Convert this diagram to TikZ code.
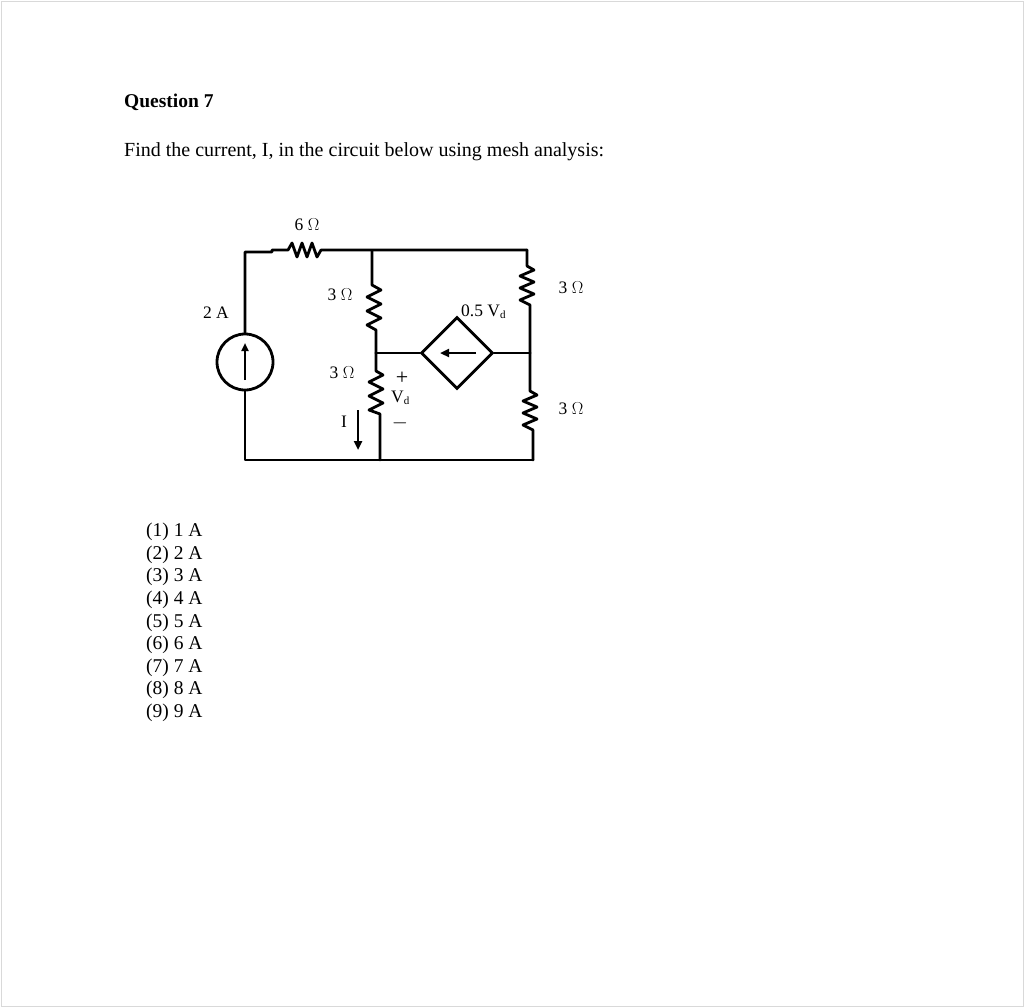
\documentclass[tikz,border=0pt]{standalone}
\usepackage{fontspec}
\setmainfont{Liberation Serif}
\usetikzlibrary{arrows.meta,shapes.geometric}
\begin{document}
\begin{tikzpicture}[x=1pt,y=-1pt,
  wire/.style={line width=2.8pt,line cap=round, line join=round},
  lbl/.style={inner sep=0pt,font=\fontsize{17.5}{17.5}\selectfont},
  opt/.style={inner sep=0pt,anchor=west,font=\fontsize{19.5}{19.5}\selectfont}]
\useasboundingbox (0,0) rectangle (1024,1007);
\draw[black!15,line width=1pt] (1,1) rectangle (1023,1006);
\node[anchor=west,inner sep=0pt,font=\fontsize{19.5}{19.5}\selectfont\bfseries] (q) at (124,102) {Question 7};
\node[anchor=west,inner sep=0pt,font=\fontsize{20}{20}\selectfont] (f) at (124,152) {Find the current, I, in the circuit below using mesh analysis:};
% nodes
\coordinate (tl) at (245,252);
\coordinate (bl) at (245,460);
\coordinate (br) at (533,460);
\coordinate (tr) at (527,250);
\coordinate (tm) at (372,251);
\coordinate (mm) at (376,353);
\coordinate (rm) at (530,353);
\coordinate (bm) at (380,460);
\node[circle,draw,line width=2.8pt,minimum size=56pt,inner sep=0pt] (src) at (245,362) {};
\node[diamond,draw,line width=2.8pt,minimum width=72pt,minimum height=72pt,inner sep=0pt] (dep) at (457,353) {};
% left/top
\draw[wire] (src.north) -- (tl) -- (272,252) -- (272,250) -- (288,250)
  -- (292,243) -- (297,257) -- (302,243) -- (307,257) -- (312,243) -- (317,257) -- (321,250) -- (325,250) -- (343,250) -- (tr);
\draw[wire] (src.south) -- (bl) -- (bm) -- (br);
% middle branch
\draw[wire] (tm) -- (372,285) -- (381,290) -- (367,297) -- (381,304) -- (367,311) -- (381,318) -- (367,325) -- (376,330) -- (mm);
\draw[wire] (mm) -- (dep.west);
\draw[wire] (mm) -- (376,371) -- (383,375) -- (369,382) -- (383,389) -- (369,396) -- (383,403) -- (369,410) -- (380,414) -- (bm);
% right branch
\draw[wire] (tr) -- (527,266) -- (534,270) -- (520,276) -- (534,282) -- (520,288) -- (534,294) -- (520,300) -- (530,305) -- (rm);
\draw[wire] (dep.east) -- (rm);
\draw[wire] (rm) -- (530,391) -- (537,395) -- (523,401) -- (537,407) -- (523,413) -- (537,419) -- (523,425) -- (533,430) -- (br);
% arrows
\draw[line width=2.4pt,-{Triangle[length=8pt,width=7pt]}] (245,380) -- (245,343);
\draw[line width=2.4pt,-{Triangle[length=9pt,width=8pt]}] (476,353) -- (440,353);
\draw[line width=2.4pt,-{Triangle[length=9pt,width=8pt]}] (358,410) -- (358,450);
% labels
\node[lbl] (l6) at (307,225) {6 $\Omega$};
\node[lbl] (l3a) at (340,295) {3 $\Omega$};
\node[lbl] (l2a) at (216,313) {2 A};
\node[lbl] (l3b) at (571,288) {3 $\Omega$};
\node[lbl,anchor=west] (l05) at (461,312) {0.5 V\raisebox{-2pt}{\fontsize{11}{11}\selectfont d}};
\node[lbl] (l3c) at (342,373) {3 $\Omega$};
\node[lbl,font=\fontsize{22}{22}\selectfont] (lp) at (402,378) {+};
\node[lbl,anchor=west] (lvd) at (391,398) {V\raisebox{-2pt}{\fontsize{11}{11}\selectfont d}};
\node[lbl,font=\fontsize{22}{22}\selectfont] (lm) at (400,423) {$-$};
\node[lbl] (li) at (344,422) {I};
\node[lbl] (l3d) at (571,409) {3 $\Omega$};
% options
\foreach \i in {1,...,9} {
  \node[opt] (o\i) at (146,532+22.6*\i-22.6) {(\i) \i\ A};
}
\end{tikzpicture}
\end{document}
